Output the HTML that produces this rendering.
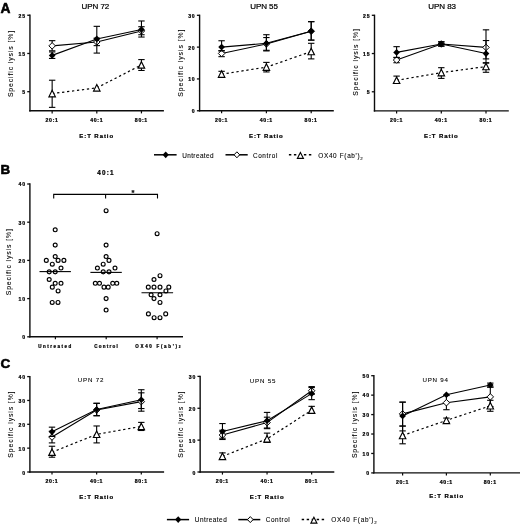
<!DOCTYPE html>
<html><head><meta charset="utf-8"><title>Figure</title>
<style>html,body{margin:0;padding:0;background:#fff}svg{display:block;filter:blur(.3px)}text{stroke:#000;stroke-width:.09px;stroke-linejoin:round}text[font-weight=bold]{stroke-width:.24px}text.tt{stroke-width:.22px}text.pl{stroke-width:.55px}</style></head>
<body>
<svg width="520" height="524" viewBox="0 0 520 524" font-family="'Liberation Sans', Arial, sans-serif">
<rect width="520" height="524" fill="#fff"/>
<text class="pl" x="0.5" y="12.8" font-size="13.8" font-weight="bold" fill="#000">A</text>
<text class="pl" x="0.5" y="174.4" font-size="13.4" font-weight="bold" fill="#000">B</text>
<text class="pl" x="0.5" y="368.2" font-size="13.6" font-weight="bold" fill="#000">C</text>
<line x1="52.15" y1="40.67" x2="52.15" y2="50.79" stroke="#000" stroke-width="1.1" />
<line x1="48.95" y1="40.67" x2="55.35" y2="40.67" stroke="#000" stroke-width="1.1" />
<line x1="48.95" y1="50.79" x2="55.35" y2="50.79" stroke="#000" stroke-width="1.1" />
<line x1="96.80" y1="38.18" x2="96.80" y2="45.63" stroke="#000" stroke-width="1.1" />
<line x1="93.60" y1="38.18" x2="100.00" y2="38.18" stroke="#000" stroke-width="1.1" />
<line x1="93.60" y1="45.63" x2="100.00" y2="45.63" stroke="#000" stroke-width="1.1" />
<line x1="141.45" y1="26.72" x2="141.45" y2="34.74" stroke="#000" stroke-width="1.1" />
<line x1="138.25" y1="26.72" x2="144.65" y2="26.72" stroke="#000" stroke-width="1.1" />
<line x1="138.25" y1="34.74" x2="144.65" y2="34.74" stroke="#000" stroke-width="1.1" />
<polyline points="52.15,45.83 96.80,42.00 141.45,30.92" fill="none" stroke="#000" stroke-width="1.1"/>
<polygon points="52.15,42.58 55.40,45.83 52.15,49.08 48.90,45.83" fill="#fff" stroke="#000" stroke-width="1"/>
<polygon points="96.80,38.75 100.05,42.00 96.80,45.25 93.55,42.00" fill="#fff" stroke="#000" stroke-width="1"/>
<polygon points="141.45,27.67 144.70,30.92 141.45,34.17 138.20,30.92" fill="#fff" stroke="#000" stroke-width="1"/>
<line x1="52.15" y1="51.94" x2="52.15" y2="58.44" stroke="#000" stroke-width="1.1" />
<line x1="48.95" y1="51.94" x2="55.35" y2="51.94" stroke="#000" stroke-width="1.1" />
<line x1="48.95" y1="58.44" x2="55.35" y2="58.44" stroke="#000" stroke-width="1.1" />
<line x1="96.80" y1="26.33" x2="96.80" y2="53.09" stroke="#000" stroke-width="1.1" />
<line x1="93.60" y1="26.33" x2="100.00" y2="26.33" stroke="#000" stroke-width="1.1" />
<line x1="93.60" y1="53.09" x2="100.00" y2="53.09" stroke="#000" stroke-width="1.1" />
<line x1="141.45" y1="20.98" x2="141.45" y2="37.04" stroke="#000" stroke-width="1.1" />
<line x1="138.25" y1="20.98" x2="144.65" y2="20.98" stroke="#000" stroke-width="1.1" />
<line x1="138.25" y1="37.04" x2="144.65" y2="37.04" stroke="#000" stroke-width="1.1" />
<polyline points="52.15,55.38 96.80,38.95 141.45,29.58" fill="none" stroke="#000" stroke-width="1.1"/>
<polygon points="52.15,52.03 55.50,55.38 52.15,58.73 48.80,55.38" fill="#000"/>
<polygon points="96.80,35.60 100.15,38.95 96.80,42.30 93.45,38.95" fill="#000"/>
<polygon points="141.45,26.23 144.80,29.58 141.45,32.93 138.10,29.58" fill="#000"/>
<line x1="52.15" y1="80.22" x2="52.15" y2="107.36" stroke="#000" stroke-width="1.1" />
<line x1="48.95" y1="80.22" x2="55.35" y2="80.22" stroke="#000" stroke-width="1.1" />
<line x1="48.95" y1="107.36" x2="55.35" y2="107.36" stroke="#000" stroke-width="1.1" />
<line x1="141.45" y1="59.59" x2="141.45" y2="70.48" stroke="#000" stroke-width="1.1" />
<line x1="138.25" y1="59.59" x2="144.65" y2="59.59" stroke="#000" stroke-width="1.1" />
<line x1="138.25" y1="70.48" x2="144.65" y2="70.48" stroke="#000" stroke-width="1.1" />
<polyline points="52.15,93.60 96.80,87.87 141.45,64.94" fill="none" stroke="#000" stroke-width="1.2" stroke-dasharray="2.3 2.7"/>
<polygon points="52.15,90.30 55.40,96.80 48.90,96.80" fill="#fff" stroke="#000" stroke-width="1.15"/>
<polygon points="96.80,84.57 100.05,91.07 93.55,91.07" fill="#fff" stroke="#000" stroke-width="1.15"/>
<polygon points="141.45,61.64 144.70,68.14 138.20,68.14" fill="#fff" stroke="#000" stroke-width="1.15"/>
<line x1="29.95" y1="14.60" x2="29.95" y2="111.50" stroke="#0c0c0c" stroke-width="1.4" />
<line x1="29.25" y1="110.80" x2="163.90" y2="110.80" stroke="#0c0c0c" stroke-width="1.4" />
<line x1="27.25" y1="91.69" x2="29.95" y2="91.69" stroke="#0c0c0c" stroke-width="1.3" />
<text x="22.21" y="94.19" font-size="5.1" font-weight="bold" letter-spacing="0.900" fill="#000">5</text>
<line x1="27.25" y1="53.47" x2="29.95" y2="53.47" stroke="#0c0c0c" stroke-width="1.3" />
<text x="18.48" y="55.97" font-size="5.1" font-weight="bold" letter-spacing="0.900" fill="#000">15</text>
<line x1="27.25" y1="15.25" x2="29.95" y2="15.25" stroke="#0c0c0c" stroke-width="1.3" />
<text x="18.48" y="17.75" font-size="5.1" font-weight="bold" letter-spacing="0.900" fill="#000">25</text>
<line x1="52.15" y1="110.80" x2="52.15" y2="113.40" stroke="#0c0c0c" stroke-width="1.2" />
<text x="45.57" y="121.60" font-size="5.2" font-weight="bold" letter-spacing="0.650" fill="#000">20:1</text>
<line x1="96.80" y1="110.80" x2="96.80" y2="113.40" stroke="#0c0c0c" stroke-width="1.2" />
<text x="90.22" y="121.60" font-size="5.2" font-weight="bold" letter-spacing="0.650" fill="#000">40:1</text>
<line x1="141.45" y1="110.80" x2="141.45" y2="113.40" stroke="#0c0c0c" stroke-width="1.2" />
<text x="134.87" y="121.60" font-size="5.2" font-weight="bold" letter-spacing="0.650" fill="#000">80:1</text>
<text class="tt" x="81.50" y="8.75" font-size="8" font-weight="normal" letter-spacing="-0.052" fill="#000">UPN 72</text>
<text transform="translate(13.30,97.10) rotate(-90)" font-size="6.8" letter-spacing="0.916" fill="#000">Specific lysis [%]</text>
<text x="79.25" y="137.90" font-size="6" font-weight="bold" letter-spacing="0.946" fill="#000">E:T Ratio</text>
<line x1="221.60" y1="50.62" x2="221.60" y2="56.66" stroke="#000" stroke-width="1.1" />
<line x1="218.40" y1="50.62" x2="224.80" y2="50.62" stroke="#000" stroke-width="1.1" />
<line x1="218.40" y1="56.66" x2="224.80" y2="56.66" stroke="#000" stroke-width="1.1" />
<line x1="266.40" y1="37.57" x2="266.40" y2="50.93" stroke="#000" stroke-width="1.1" />
<line x1="263.20" y1="37.57" x2="269.60" y2="37.57" stroke="#000" stroke-width="1.1" />
<line x1="263.20" y1="50.93" x2="269.60" y2="50.93" stroke="#000" stroke-width="1.1" />
<line x1="311.20" y1="21.66" x2="311.20" y2="40.12" stroke="#000" stroke-width="1.1" />
<line x1="308.00" y1="21.66" x2="314.40" y2="21.66" stroke="#000" stroke-width="1.1" />
<line x1="308.00" y1="40.12" x2="314.40" y2="40.12" stroke="#000" stroke-width="1.1" />
<polyline points="221.60,53.48 266.40,43.94 311.20,31.21" fill="none" stroke="#000" stroke-width="1.1"/>
<polygon points="221.60,50.23 224.85,53.48 221.60,56.73 218.35,53.48" fill="#fff" stroke="#000" stroke-width="1"/>
<polygon points="266.40,40.69 269.65,43.94 266.40,47.19 263.15,43.94" fill="#fff" stroke="#000" stroke-width="1"/>
<polygon points="311.20,27.96 314.45,31.21 311.20,34.46 307.95,31.21" fill="#fff" stroke="#000" stroke-width="1"/>
<line x1="221.60" y1="40.75" x2="221.60" y2="50.93" stroke="#000" stroke-width="1.1" />
<line x1="218.40" y1="40.75" x2="224.80" y2="40.75" stroke="#000" stroke-width="1.1" />
<line x1="218.40" y1="50.93" x2="224.80" y2="50.93" stroke="#000" stroke-width="1.1" />
<line x1="266.40" y1="34.71" x2="266.40" y2="50.30" stroke="#000" stroke-width="1.1" />
<line x1="263.20" y1="34.71" x2="269.60" y2="34.71" stroke="#000" stroke-width="1.1" />
<line x1="263.20" y1="50.30" x2="269.60" y2="50.30" stroke="#000" stroke-width="1.1" />
<line x1="311.20" y1="21.66" x2="311.20" y2="40.12" stroke="#000" stroke-width="1.1" />
<line x1="308.00" y1="21.66" x2="314.40" y2="21.66" stroke="#000" stroke-width="1.1" />
<line x1="308.00" y1="40.12" x2="314.40" y2="40.12" stroke="#000" stroke-width="1.1" />
<polyline points="221.60,47.12 266.40,43.30 311.20,31.21" fill="none" stroke="#000" stroke-width="1.1"/>
<polygon points="221.60,43.77 224.95,47.12 221.60,50.47 218.25,47.12" fill="#000"/>
<polygon points="266.40,39.95 269.75,43.30 266.40,46.65 263.05,43.30" fill="#000"/>
<polygon points="311.20,27.86 314.55,31.21 311.20,34.56 307.85,31.21" fill="#000"/>
<line x1="221.60" y1="71.30" x2="221.60" y2="77.02" stroke="#000" stroke-width="1.1" />
<line x1="218.40" y1="71.30" x2="224.80" y2="71.30" stroke="#000" stroke-width="1.1" />
<line x1="218.40" y1="77.02" x2="224.80" y2="77.02" stroke="#000" stroke-width="1.1" />
<line x1="266.40" y1="62.39" x2="266.40" y2="71.93" stroke="#000" stroke-width="1.1" />
<line x1="263.20" y1="62.39" x2="269.60" y2="62.39" stroke="#000" stroke-width="1.1" />
<line x1="263.20" y1="71.93" x2="269.60" y2="71.93" stroke="#000" stroke-width="1.1" />
<line x1="311.20" y1="43.30" x2="311.20" y2="58.89" stroke="#000" stroke-width="1.1" />
<line x1="308.00" y1="43.30" x2="314.40" y2="43.30" stroke="#000" stroke-width="1.1" />
<line x1="308.00" y1="58.89" x2="314.40" y2="58.89" stroke="#000" stroke-width="1.1" />
<polyline points="221.60,74.16 266.40,67.16 311.20,51.57" fill="none" stroke="#000" stroke-width="1.2" stroke-dasharray="2.3 2.7"/>
<polygon points="221.60,70.86 224.85,77.36 218.35,77.36" fill="#fff" stroke="#000" stroke-width="1.15"/>
<polygon points="266.40,63.86 269.65,70.36 263.15,70.36" fill="#fff" stroke="#000" stroke-width="1.15"/>
<polygon points="311.20,48.27 314.45,54.77 307.95,54.77" fill="#fff" stroke="#000" stroke-width="1.15"/>
<line x1="199.60" y1="14.65" x2="199.60" y2="111.45" stroke="#0c0c0c" stroke-width="1.4" />
<line x1="198.90" y1="110.75" x2="333.80" y2="110.75" stroke="#0c0c0c" stroke-width="1.4" />
<line x1="196.90" y1="110.75" x2="199.60" y2="110.75" stroke="#0c0c0c" stroke-width="1.3" />
<text x="191.86" y="113.25" font-size="5.1" font-weight="bold" letter-spacing="0.900" fill="#000">0</text>
<line x1="196.90" y1="78.93" x2="199.60" y2="78.93" stroke="#0c0c0c" stroke-width="1.3" />
<text x="188.13" y="81.43" font-size="5.1" font-weight="bold" letter-spacing="0.900" fill="#000">10</text>
<line x1="196.90" y1="47.12" x2="199.60" y2="47.12" stroke="#0c0c0c" stroke-width="1.3" />
<text x="188.13" y="49.62" font-size="5.1" font-weight="bold" letter-spacing="0.900" fill="#000">20</text>
<line x1="196.90" y1="15.30" x2="199.60" y2="15.30" stroke="#0c0c0c" stroke-width="1.3" />
<text x="188.13" y="17.80" font-size="5.1" font-weight="bold" letter-spacing="0.900" fill="#000">30</text>
<line x1="221.60" y1="110.75" x2="221.60" y2="113.35" stroke="#0c0c0c" stroke-width="1.2" />
<text x="215.02" y="121.60" font-size="5.2" font-weight="bold" letter-spacing="0.650" fill="#000">20:1</text>
<line x1="266.40" y1="110.75" x2="266.40" y2="113.35" stroke="#0c0c0c" stroke-width="1.2" />
<text x="259.82" y="121.60" font-size="5.2" font-weight="bold" letter-spacing="0.650" fill="#000">40:1</text>
<line x1="311.20" y1="110.75" x2="311.20" y2="113.35" stroke="#0c0c0c" stroke-width="1.2" />
<text x="304.62" y="121.60" font-size="5.2" font-weight="bold" letter-spacing="0.650" fill="#000">80:1</text>
<text class="tt" x="250.25" y="8.75" font-size="8" font-weight="normal" letter-spacing="-0.062" fill="#000">UPN 55</text>
<text transform="translate(183.30,96.70) rotate(-90)" font-size="6.8" letter-spacing="0.969" fill="#000">Specific lysis [%]</text>
<text x="249.05" y="137.70" font-size="6" font-weight="bold" letter-spacing="0.908" fill="#000">E:T Ratio</text>
<line x1="396.60" y1="57.75" x2="396.60" y2="62.72" stroke="#000" stroke-width="1.1" />
<line x1="393.40" y1="57.75" x2="399.80" y2="57.75" stroke="#000" stroke-width="1.1" />
<line x1="393.40" y1="62.72" x2="399.80" y2="62.72" stroke="#000" stroke-width="1.1" />
<line x1="441.30" y1="42.07" x2="441.30" y2="45.89" stroke="#000" stroke-width="1.1" />
<line x1="438.10" y1="42.07" x2="444.50" y2="42.07" stroke="#000" stroke-width="1.1" />
<line x1="438.10" y1="45.89" x2="444.50" y2="45.89" stroke="#000" stroke-width="1.1" />
<line x1="486.00" y1="29.83" x2="486.00" y2="63.10" stroke="#000" stroke-width="1.1" />
<line x1="482.80" y1="29.83" x2="489.20" y2="29.83" stroke="#000" stroke-width="1.1" />
<line x1="482.80" y1="63.10" x2="489.20" y2="63.10" stroke="#000" stroke-width="1.1" />
<polyline points="396.60,60.04 441.30,43.98 486.00,47.42" fill="none" stroke="#000" stroke-width="1.1"/>
<polygon points="396.60,56.79 399.85,60.04 396.60,63.29 393.35,60.04" fill="#fff" stroke="#000" stroke-width="1"/>
<polygon points="441.30,40.73 444.55,43.98 441.30,47.23 438.05,43.98" fill="#fff" stroke="#000" stroke-width="1"/>
<polygon points="486.00,44.17 489.25,47.42 486.00,50.67 482.75,47.42" fill="#fff" stroke="#000" stroke-width="1"/>
<line x1="396.60" y1="46.66" x2="396.60" y2="57.36" stroke="#000" stroke-width="1.1" />
<line x1="393.40" y1="46.66" x2="399.80" y2="46.66" stroke="#000" stroke-width="1.1" />
<line x1="393.40" y1="57.36" x2="399.80" y2="57.36" stroke="#000" stroke-width="1.1" />
<line x1="441.30" y1="41.69" x2="441.30" y2="46.27" stroke="#000" stroke-width="1.1" />
<line x1="438.10" y1="41.69" x2="444.50" y2="41.69" stroke="#000" stroke-width="1.1" />
<line x1="438.10" y1="46.27" x2="444.50" y2="46.27" stroke="#000" stroke-width="1.1" />
<line x1="486.00" y1="40.54" x2="486.00" y2="58.89" stroke="#000" stroke-width="1.1" />
<line x1="482.80" y1="40.54" x2="489.20" y2="40.54" stroke="#000" stroke-width="1.1" />
<line x1="482.80" y1="58.89" x2="489.20" y2="58.89" stroke="#000" stroke-width="1.1" />
<polyline points="396.60,52.39 441.30,43.98 486.00,53.54" fill="none" stroke="#000" stroke-width="1.1"/>
<polygon points="396.60,49.04 399.95,52.39 396.60,55.74 393.25,52.39" fill="#000"/>
<polygon points="441.30,40.63 444.65,43.98 441.30,47.33 437.95,43.98" fill="#000"/>
<polygon points="486.00,50.19 489.35,53.54 486.00,56.89 482.65,53.54" fill="#000"/>
<line x1="396.60" y1="76.10" x2="396.60" y2="83.37" stroke="#000" stroke-width="1.1" />
<line x1="393.40" y1="76.10" x2="399.80" y2="76.10" stroke="#000" stroke-width="1.1" />
<line x1="393.40" y1="83.37" x2="399.80" y2="83.37" stroke="#000" stroke-width="1.1" />
<line x1="441.30" y1="67.69" x2="441.30" y2="78.40" stroke="#000" stroke-width="1.1" />
<line x1="438.10" y1="67.69" x2="444.50" y2="67.69" stroke="#000" stroke-width="1.1" />
<line x1="438.10" y1="78.40" x2="444.50" y2="78.40" stroke="#000" stroke-width="1.1" />
<line x1="486.00" y1="62.72" x2="486.00" y2="72.28" stroke="#000" stroke-width="1.1" />
<line x1="482.80" y1="62.72" x2="489.20" y2="62.72" stroke="#000" stroke-width="1.1" />
<line x1="482.80" y1="72.28" x2="489.20" y2="72.28" stroke="#000" stroke-width="1.1" />
<polyline points="396.60,80.31 441.30,72.66 486.00,66.54" fill="none" stroke="#000" stroke-width="1.2" stroke-dasharray="2.3 2.7"/>
<polygon points="396.60,77.01 399.85,83.51 393.35,83.51" fill="#fff" stroke="#000" stroke-width="1.15"/>
<polygon points="441.30,69.36 444.55,75.86 438.05,75.86" fill="#fff" stroke="#000" stroke-width="1.15"/>
<polygon points="486.00,63.24 489.25,69.74 482.75,69.74" fill="#fff" stroke="#000" stroke-width="1.15"/>
<line x1="374.50" y1="14.65" x2="374.50" y2="111.60" stroke="#0c0c0c" stroke-width="1.4" />
<line x1="373.80" y1="110.90" x2="508.80" y2="110.90" stroke="#0c0c0c" stroke-width="1.4" />
<line x1="371.80" y1="91.78" x2="374.50" y2="91.78" stroke="#0c0c0c" stroke-width="1.3" />
<text x="366.76" y="94.28" font-size="5.1" font-weight="bold" letter-spacing="0.900" fill="#000">5</text>
<line x1="371.80" y1="53.54" x2="374.50" y2="53.54" stroke="#0c0c0c" stroke-width="1.3" />
<text x="363.03" y="56.04" font-size="5.1" font-weight="bold" letter-spacing="0.900" fill="#000">15</text>
<line x1="371.80" y1="15.30" x2="374.50" y2="15.30" stroke="#0c0c0c" stroke-width="1.3" />
<text x="363.03" y="17.80" font-size="5.1" font-weight="bold" letter-spacing="0.900" fill="#000">25</text>
<line x1="396.60" y1="110.90" x2="396.60" y2="113.50" stroke="#0c0c0c" stroke-width="1.2" />
<text x="390.02" y="121.60" font-size="5.2" font-weight="bold" letter-spacing="0.650" fill="#000">20:1</text>
<line x1="441.30" y1="110.90" x2="441.30" y2="113.50" stroke="#0c0c0c" stroke-width="1.2" />
<text x="434.72" y="121.60" font-size="5.2" font-weight="bold" letter-spacing="0.650" fill="#000">40:1</text>
<line x1="486.00" y1="110.90" x2="486.00" y2="113.50" stroke="#0c0c0c" stroke-width="1.2" />
<text x="479.42" y="121.60" font-size="5.2" font-weight="bold" letter-spacing="0.650" fill="#000">80:1</text>
<text class="tt" x="428.25" y="8.75" font-size="8" font-weight="normal" letter-spacing="-0.052" fill="#000">UPN 83</text>
<text transform="translate(357.90,95.80) rotate(-90)" font-size="6.8" letter-spacing="0.951" fill="#000">Specific lysis [%]</text>
<text x="424.05" y="137.70" font-size="6" font-weight="bold" letter-spacing="0.908" fill="#000">E:T Ratio</text>
<line x1="154.00" y1="154.80" x2="176.60" y2="154.80" stroke="#000" stroke-width="1.5" />
<polygon points="165.70,151.40 168.80,154.80 165.70,158.20 162.60,154.80" fill="#000"/>
<text x="182.15" y="158.00" font-size="6.4" font-weight="normal" letter-spacing="0.424" fill="#000">Untreated</text>
<line x1="225.50" y1="154.80" x2="247.70" y2="154.80" stroke="#000" stroke-width="1.5" />
<polygon points="236.90,151.80 239.70,154.80 236.90,157.80 234.10,154.80" fill="#fff" stroke="#000" stroke-width="1"/>
<text x="252.95" y="158.00" font-size="6.4" font-weight="normal" letter-spacing="0.628" fill="#000">Control</text>
<line x1="288.90" y1="154.80" x2="311.70" y2="154.80" stroke="#000" stroke-width="1.5" stroke-dasharray="2.4 2.6"/>
<polygon points="300.40,152.40 303.40,158.30 297.40,158.30" fill="#fff" stroke="#000" stroke-width="1.15"/>
<text x="318.35" y="158.00" font-size="6.4" letter-spacing="0.664" fill="#000">OX40 F(ab')<tspan font-size="4.4" dy="1.6">2</tspan></text>
<line x1="52.00" y1="431.22" x2="52.00" y2="442.90" stroke="#000" stroke-width="1.1" />
<line x1="48.80" y1="431.22" x2="55.20" y2="431.22" stroke="#000" stroke-width="1.1" />
<line x1="48.80" y1="442.90" x2="55.20" y2="442.90" stroke="#000" stroke-width="1.1" />
<line x1="96.65" y1="403.31" x2="96.65" y2="415.71" stroke="#000" stroke-width="1.1" />
<line x1="93.45" y1="403.31" x2="99.85" y2="403.31" stroke="#000" stroke-width="1.1" />
<line x1="93.45" y1="415.71" x2="99.85" y2="415.71" stroke="#000" stroke-width="1.1" />
<line x1="141.30" y1="392.82" x2="141.30" y2="411.18" stroke="#000" stroke-width="1.1" />
<line x1="138.10" y1="392.82" x2="144.50" y2="392.82" stroke="#000" stroke-width="1.1" />
<line x1="138.10" y1="411.18" x2="144.50" y2="411.18" stroke="#000" stroke-width="1.1" />
<polyline points="52.00,437.06 96.65,409.99 141.30,401.64" fill="none" stroke="#000" stroke-width="1.1"/>
<polygon points="52.00,433.81 55.25,437.06 52.00,440.31 48.75,437.06" fill="#fff" stroke="#000" stroke-width="1"/>
<polygon points="96.65,406.74 99.90,409.99 96.65,413.24 93.40,409.99" fill="#fff" stroke="#000" stroke-width="1"/>
<polygon points="141.30,398.39 144.55,401.64 141.30,404.89 138.05,401.64" fill="#fff" stroke="#000" stroke-width="1"/>
<line x1="52.00" y1="427.16" x2="52.00" y2="436.46" stroke="#000" stroke-width="1.1" />
<line x1="48.80" y1="427.16" x2="55.20" y2="427.16" stroke="#000" stroke-width="1.1" />
<line x1="48.80" y1="436.46" x2="55.20" y2="436.46" stroke="#000" stroke-width="1.1" />
<line x1="96.65" y1="403.31" x2="96.65" y2="415.71" stroke="#000" stroke-width="1.1" />
<line x1="93.45" y1="403.31" x2="99.85" y2="403.31" stroke="#000" stroke-width="1.1" />
<line x1="93.45" y1="415.71" x2="99.85" y2="415.71" stroke="#000" stroke-width="1.1" />
<line x1="141.30" y1="389.72" x2="141.30" y2="408.56" stroke="#000" stroke-width="1.1" />
<line x1="138.10" y1="389.72" x2="144.50" y2="389.72" stroke="#000" stroke-width="1.1" />
<line x1="138.10" y1="408.56" x2="144.50" y2="408.56" stroke="#000" stroke-width="1.1" />
<polyline points="52.00,431.81 96.65,409.51 141.30,399.73" fill="none" stroke="#000" stroke-width="1.1"/>
<polygon points="52.00,428.46 55.35,431.81 52.00,435.16 48.65,431.81" fill="#000"/>
<polygon points="96.65,406.16 100.00,409.51 96.65,412.86 93.30,409.51" fill="#000"/>
<polygon points="141.30,396.38 144.65,399.73 141.30,403.08 137.95,399.73" fill="#000"/>
<line x1="52.00" y1="446.24" x2="52.00" y2="457.21" stroke="#000" stroke-width="1.1" />
<line x1="48.80" y1="446.24" x2="55.20" y2="446.24" stroke="#000" stroke-width="1.1" />
<line x1="48.80" y1="457.21" x2="55.20" y2="457.21" stroke="#000" stroke-width="1.1" />
<line x1="96.65" y1="425.97" x2="96.65" y2="442.90" stroke="#000" stroke-width="1.1" />
<line x1="93.45" y1="425.97" x2="99.85" y2="425.97" stroke="#000" stroke-width="1.1" />
<line x1="93.45" y1="442.90" x2="99.85" y2="442.90" stroke="#000" stroke-width="1.1" />
<line x1="141.30" y1="422.39" x2="141.30" y2="430.50" stroke="#000" stroke-width="1.1" />
<line x1="138.10" y1="422.39" x2="144.50" y2="422.39" stroke="#000" stroke-width="1.1" />
<line x1="138.10" y1="430.50" x2="144.50" y2="430.50" stroke="#000" stroke-width="1.1" />
<polyline points="52.00,452.20 96.65,434.32 141.30,426.45" fill="none" stroke="#000" stroke-width="1.2" stroke-dasharray="2.3 2.7"/>
<polygon points="52.00,448.90 55.25,455.40 48.75,455.40" fill="#fff" stroke="#000" stroke-width="1.15"/>
<polygon points="96.65,431.02 99.90,437.52 93.40,437.52" fill="#fff" stroke="#000" stroke-width="1.15"/>
<polygon points="141.30,423.15 144.55,429.65 138.05,429.65" fill="#fff" stroke="#000" stroke-width="1.15"/>
<line x1="29.90" y1="375.95" x2="29.90" y2="472.70" stroke="#0c0c0c" stroke-width="1.4" />
<line x1="29.20" y1="472.00" x2="164.10" y2="472.00" stroke="#0c0c0c" stroke-width="1.4" />
<line x1="27.20" y1="472.00" x2="29.90" y2="472.00" stroke="#0c0c0c" stroke-width="1.3" />
<text x="22.16" y="474.50" font-size="5.1" font-weight="bold" letter-spacing="0.900" fill="#000">0</text>
<line x1="27.20" y1="448.15" x2="29.90" y2="448.15" stroke="#0c0c0c" stroke-width="1.3" />
<text x="18.43" y="450.65" font-size="5.1" font-weight="bold" letter-spacing="0.900" fill="#000">10</text>
<line x1="27.20" y1="424.30" x2="29.90" y2="424.30" stroke="#0c0c0c" stroke-width="1.3" />
<text x="18.43" y="426.80" font-size="5.1" font-weight="bold" letter-spacing="0.900" fill="#000">20</text>
<line x1="27.20" y1="400.45" x2="29.90" y2="400.45" stroke="#0c0c0c" stroke-width="1.3" />
<text x="18.43" y="402.95" font-size="5.1" font-weight="bold" letter-spacing="0.900" fill="#000">30</text>
<line x1="27.20" y1="376.60" x2="29.90" y2="376.60" stroke="#0c0c0c" stroke-width="1.3" />
<text x="18.43" y="379.10" font-size="5.1" font-weight="bold" letter-spacing="0.900" fill="#000">40</text>
<line x1="52.00" y1="472.00" x2="52.00" y2="474.60" stroke="#0c0c0c" stroke-width="1.2" />
<text x="45.42" y="482.60" font-size="5.2" font-weight="bold" letter-spacing="0.650" fill="#000">20:1</text>
<line x1="96.65" y1="472.00" x2="96.65" y2="474.60" stroke="#0c0c0c" stroke-width="1.2" />
<text x="90.07" y="482.60" font-size="5.2" font-weight="bold" letter-spacing="0.650" fill="#000">40:1</text>
<line x1="141.30" y1="472.00" x2="141.30" y2="474.60" stroke="#0c0c0c" stroke-width="1.2" />
<text x="134.72" y="482.60" font-size="5.2" font-weight="bold" letter-spacing="0.650" fill="#000">80:1</text>
<text x="77.75" y="381.60" font-size="6.2" font-weight="normal" letter-spacing="0.798" fill="#000">UPN 72</text>
<text transform="translate(13.30,457.70) rotate(-90)" font-size="6.8" letter-spacing="0.916" fill="#000">Specific lysis [%]</text>
<text x="79.35" y="498.90" font-size="6" font-weight="bold" letter-spacing="0.933" fill="#000">E:T Ratio</text>
<line x1="222.45" y1="430.25" x2="222.45" y2="439.50" stroke="#000" stroke-width="1.1" />
<line x1="219.25" y1="430.25" x2="225.65" y2="430.25" stroke="#000" stroke-width="1.1" />
<line x1="219.25" y1="439.50" x2="225.65" y2="439.50" stroke="#000" stroke-width="1.1" />
<line x1="267.05" y1="417.19" x2="267.05" y2="428.02" stroke="#000" stroke-width="1.1" />
<line x1="263.85" y1="417.19" x2="270.25" y2="417.19" stroke="#000" stroke-width="1.1" />
<line x1="263.85" y1="428.02" x2="270.25" y2="428.02" stroke="#000" stroke-width="1.1" />
<line x1="311.65" y1="386.60" x2="311.65" y2="394.25" stroke="#000" stroke-width="1.1" />
<line x1="308.45" y1="386.60" x2="314.85" y2="386.60" stroke="#000" stroke-width="1.1" />
<line x1="308.45" y1="394.25" x2="314.85" y2="394.25" stroke="#000" stroke-width="1.1" />
<polyline points="222.45,435.03 267.05,422.61 311.65,390.74" fill="none" stroke="#000" stroke-width="1.1"/>
<polygon points="222.45,431.78 225.70,435.03 222.45,438.28 219.20,435.03" fill="#fff" stroke="#000" stroke-width="1"/>
<polygon points="267.05,419.36 270.30,422.61 267.05,425.86 263.80,422.61" fill="#fff" stroke="#000" stroke-width="1"/>
<polygon points="311.65,387.49 314.90,390.74 311.65,393.99 308.40,390.74" fill="#fff" stroke="#000" stroke-width="1"/>
<line x1="222.45" y1="423.56" x2="222.45" y2="438.22" stroke="#000" stroke-width="1.1" />
<line x1="219.25" y1="423.56" x2="225.65" y2="423.56" stroke="#000" stroke-width="1.1" />
<line x1="219.25" y1="438.22" x2="225.65" y2="438.22" stroke="#000" stroke-width="1.1" />
<line x1="267.05" y1="412.41" x2="267.05" y2="428.66" stroke="#000" stroke-width="1.1" />
<line x1="263.85" y1="412.41" x2="270.25" y2="412.41" stroke="#000" stroke-width="1.1" />
<line x1="263.85" y1="428.66" x2="270.25" y2="428.66" stroke="#000" stroke-width="1.1" />
<line x1="311.65" y1="387.55" x2="311.65" y2="399.66" stroke="#000" stroke-width="1.1" />
<line x1="308.45" y1="387.55" x2="314.85" y2="387.55" stroke="#000" stroke-width="1.1" />
<line x1="308.45" y1="399.66" x2="314.85" y2="399.66" stroke="#000" stroke-width="1.1" />
<polyline points="222.45,431.53 267.05,420.69 311.65,393.61" fill="none" stroke="#000" stroke-width="1.1"/>
<polygon points="222.45,428.18 225.80,431.53 222.45,434.88 219.10,431.53" fill="#000"/>
<polygon points="267.05,417.34 270.40,420.69 267.05,424.04 263.70,420.69" fill="#000"/>
<polygon points="311.65,390.26 315.00,393.61 311.65,396.96 308.30,393.61" fill="#000"/>
<line x1="222.45" y1="452.88" x2="222.45" y2="458.93" stroke="#000" stroke-width="1.1" />
<line x1="219.25" y1="452.88" x2="225.65" y2="452.88" stroke="#000" stroke-width="1.1" />
<line x1="219.25" y1="458.93" x2="225.65" y2="458.93" stroke="#000" stroke-width="1.1" />
<line x1="267.05" y1="433.12" x2="267.05" y2="442.36" stroke="#000" stroke-width="1.1" />
<line x1="263.85" y1="433.12" x2="270.25" y2="433.12" stroke="#000" stroke-width="1.1" />
<line x1="263.85" y1="442.36" x2="270.25" y2="442.36" stroke="#000" stroke-width="1.1" />
<line x1="311.65" y1="406.35" x2="311.65" y2="413.37" stroke="#000" stroke-width="1.1" />
<line x1="308.45" y1="406.35" x2="314.85" y2="406.35" stroke="#000" stroke-width="1.1" />
<line x1="308.45" y1="413.37" x2="314.85" y2="413.37" stroke="#000" stroke-width="1.1" />
<polyline points="222.45,456.39 267.05,438.86 311.65,410.18" fill="none" stroke="#000" stroke-width="1.2" stroke-dasharray="2.3 2.7"/>
<polygon points="222.45,453.09 225.70,459.59 219.20,459.59" fill="#fff" stroke="#000" stroke-width="1.15"/>
<polygon points="267.05,435.56 270.30,442.06 263.80,442.06" fill="#fff" stroke="#000" stroke-width="1.15"/>
<polygon points="311.65,406.88 314.90,413.38 308.40,413.38" fill="#fff" stroke="#000" stroke-width="1.15"/>
<line x1="200.15" y1="375.75" x2="200.15" y2="472.70" stroke="#0c0c0c" stroke-width="1.4" />
<line x1="199.45" y1="472.00" x2="334.30" y2="472.00" stroke="#0c0c0c" stroke-width="1.4" />
<line x1="197.45" y1="472.00" x2="200.15" y2="472.00" stroke="#0c0c0c" stroke-width="1.3" />
<text x="192.41" y="474.50" font-size="5.1" font-weight="bold" letter-spacing="0.900" fill="#000">0</text>
<line x1="197.45" y1="440.13" x2="200.15" y2="440.13" stroke="#0c0c0c" stroke-width="1.3" />
<text x="188.68" y="442.63" font-size="5.1" font-weight="bold" letter-spacing="0.900" fill="#000">10</text>
<line x1="197.45" y1="408.27" x2="200.15" y2="408.27" stroke="#0c0c0c" stroke-width="1.3" />
<text x="188.68" y="410.77" font-size="5.1" font-weight="bold" letter-spacing="0.900" fill="#000">20</text>
<line x1="197.45" y1="376.40" x2="200.15" y2="376.40" stroke="#0c0c0c" stroke-width="1.3" />
<text x="188.68" y="378.90" font-size="5.1" font-weight="bold" letter-spacing="0.900" fill="#000">30</text>
<line x1="222.45" y1="472.00" x2="222.45" y2="474.60" stroke="#0c0c0c" stroke-width="1.2" />
<text x="215.87" y="482.60" font-size="5.2" font-weight="bold" letter-spacing="0.650" fill="#000">20:1</text>
<line x1="267.05" y1="472.00" x2="267.05" y2="474.60" stroke="#0c0c0c" stroke-width="1.2" />
<text x="260.47" y="482.60" font-size="5.2" font-weight="bold" letter-spacing="0.650" fill="#000">40:1</text>
<line x1="311.65" y1="472.00" x2="311.65" y2="474.60" stroke="#0c0c0c" stroke-width="1.2" />
<text x="305.07" y="482.60" font-size="5.2" font-weight="bold" letter-spacing="0.650" fill="#000">80:1</text>
<text x="249.75" y="382.90" font-size="6.2" font-weight="normal" letter-spacing="0.818" fill="#000">UPN 55</text>
<text transform="translate(183.30,457.70) rotate(-90)" font-size="6.8" letter-spacing="0.916" fill="#000">Specific lysis [%]</text>
<text x="249.75" y="498.90" font-size="6" font-weight="bold" letter-spacing="0.933" fill="#000">E:T Ratio</text>
<line x1="402.60" y1="402.14" x2="402.60" y2="430.91" stroke="#000" stroke-width="1.1" />
<line x1="399.40" y1="402.14" x2="405.80" y2="402.14" stroke="#000" stroke-width="1.1" />
<line x1="399.40" y1="430.91" x2="405.80" y2="430.91" stroke="#000" stroke-width="1.1" />
<line x1="446.40" y1="395.53" x2="446.40" y2="409.72" stroke="#000" stroke-width="1.1" />
<line x1="443.20" y1="395.53" x2="449.60" y2="395.53" stroke="#000" stroke-width="1.1" />
<line x1="443.20" y1="409.72" x2="449.60" y2="409.72" stroke="#000" stroke-width="1.1" />
<line x1="490.30" y1="387.17" x2="490.30" y2="406.61" stroke="#000" stroke-width="1.1" />
<line x1="487.10" y1="387.17" x2="493.50" y2="387.17" stroke="#000" stroke-width="1.1" />
<line x1="487.10" y1="406.61" x2="493.50" y2="406.61" stroke="#000" stroke-width="1.1" />
<polyline points="402.60,413.90 446.40,402.72 490.30,396.89" fill="none" stroke="#000" stroke-width="1.1"/>
<polygon points="402.60,410.65 405.85,413.90 402.60,417.15 399.35,413.90" fill="#fff" stroke="#000" stroke-width="1"/>
<polygon points="446.40,399.47 449.65,402.72 446.40,405.97 443.15,402.72" fill="#fff" stroke="#000" stroke-width="1"/>
<polygon points="490.30,393.64 493.55,396.89 490.30,400.14 487.05,396.89" fill="#fff" stroke="#000" stroke-width="1"/>
<line x1="402.60" y1="402.14" x2="402.60" y2="426.05" stroke="#000" stroke-width="1.1" />
<line x1="399.40" y1="402.14" x2="405.80" y2="402.14" stroke="#000" stroke-width="1.1" />
<line x1="399.40" y1="426.05" x2="405.80" y2="426.05" stroke="#000" stroke-width="1.1" />
<line x1="490.30" y1="383.09" x2="490.30" y2="386.98" stroke="#000" stroke-width="1.1" />
<line x1="487.10" y1="383.09" x2="493.50" y2="383.09" stroke="#000" stroke-width="1.1" />
<line x1="487.10" y1="386.98" x2="493.50" y2="386.98" stroke="#000" stroke-width="1.1" />
<polyline points="402.60,415.94 446.40,394.75 490.30,385.03" fill="none" stroke="#000" stroke-width="1.1"/>
<polygon points="402.60,412.59 405.95,415.94 402.60,419.29 399.25,415.94" fill="#000"/>
<polygon points="446.40,391.40 449.75,394.75 446.40,398.10 443.05,394.75" fill="#000"/>
<polygon points="490.30,381.68 493.65,385.03 490.30,388.38 486.95,385.03" fill="#000"/>
<line x1="402.60" y1="426.05" x2="402.60" y2="443.80" stroke="#000" stroke-width="1.1" />
<line x1="399.40" y1="426.05" x2="405.80" y2="426.05" stroke="#000" stroke-width="1.1" />
<line x1="399.40" y1="443.80" x2="405.80" y2="443.80" stroke="#000" stroke-width="1.1" />
<line x1="446.40" y1="418.08" x2="446.40" y2="422.36" stroke="#000" stroke-width="1.1" />
<line x1="443.20" y1="418.08" x2="449.60" y2="418.08" stroke="#000" stroke-width="1.1" />
<line x1="443.20" y1="422.36" x2="449.60" y2="422.36" stroke="#000" stroke-width="1.1" />
<line x1="490.30" y1="400.29" x2="490.30" y2="411.28" stroke="#000" stroke-width="1.1" />
<line x1="487.10" y1="400.29" x2="493.50" y2="400.29" stroke="#000" stroke-width="1.1" />
<line x1="487.10" y1="411.28" x2="493.50" y2="411.28" stroke="#000" stroke-width="1.1" />
<polyline points="402.60,435.50 446.40,420.41 490.30,405.83" fill="none" stroke="#000" stroke-width="1.2" stroke-dasharray="2.3 2.7"/>
<polygon points="402.60,432.20 405.85,438.70 399.35,438.70" fill="#fff" stroke="#000" stroke-width="1.15"/>
<polygon points="446.40,417.11 449.65,423.61 443.15,423.61" fill="#fff" stroke="#000" stroke-width="1.15"/>
<polygon points="490.30,402.53 493.55,409.03 487.05,409.03" fill="#fff" stroke="#000" stroke-width="1.15"/>
<line x1="373.90" y1="375.05" x2="373.90" y2="473.60" stroke="#0c0c0c" stroke-width="1.4" />
<line x1="373.20" y1="472.90" x2="520.50" y2="472.90" stroke="#0c0c0c" stroke-width="1.4" />
<line x1="371.20" y1="472.90" x2="373.90" y2="472.90" stroke="#0c0c0c" stroke-width="1.3" />
<text x="366.16" y="475.00" font-size="5.1" font-weight="bold" letter-spacing="0.900" fill="#000">0</text>
<line x1="371.20" y1="453.46" x2="373.90" y2="453.46" stroke="#0c0c0c" stroke-width="1.3" />
<text x="362.43" y="455.56" font-size="5.1" font-weight="bold" letter-spacing="0.900" fill="#000">10</text>
<line x1="371.20" y1="434.02" x2="373.90" y2="434.02" stroke="#0c0c0c" stroke-width="1.3" />
<text x="362.43" y="436.12" font-size="5.1" font-weight="bold" letter-spacing="0.900" fill="#000">20</text>
<line x1="371.20" y1="414.58" x2="373.90" y2="414.58" stroke="#0c0c0c" stroke-width="1.3" />
<text x="362.43" y="416.68" font-size="5.1" font-weight="bold" letter-spacing="0.900" fill="#000">30</text>
<line x1="371.20" y1="395.14" x2="373.90" y2="395.14" stroke="#0c0c0c" stroke-width="1.3" />
<text x="362.43" y="397.24" font-size="5.1" font-weight="bold" letter-spacing="0.900" fill="#000">40</text>
<line x1="371.20" y1="375.70" x2="373.90" y2="375.70" stroke="#0c0c0c" stroke-width="1.3" />
<text x="362.43" y="377.80" font-size="5.1" font-weight="bold" letter-spacing="0.900" fill="#000">50</text>
<line x1="402.60" y1="472.90" x2="402.60" y2="475.50" stroke="#0c0c0c" stroke-width="1.2" />
<text x="396.02" y="483.60" font-size="5.2" font-weight="bold" letter-spacing="0.650" fill="#000">20:1</text>
<line x1="446.40" y1="472.90" x2="446.40" y2="475.50" stroke="#0c0c0c" stroke-width="1.2" />
<text x="439.82" y="483.60" font-size="5.2" font-weight="bold" letter-spacing="0.650" fill="#000">40:1</text>
<line x1="490.30" y1="472.90" x2="490.30" y2="475.50" stroke="#0c0c0c" stroke-width="1.2" />
<text x="483.72" y="483.60" font-size="5.2" font-weight="bold" letter-spacing="0.650" fill="#000">80:1</text>
<text x="422.45" y="381.60" font-size="6.2" font-weight="normal" letter-spacing="0.758" fill="#000">UPN 94</text>
<text transform="translate(356.80,458.10) rotate(-90)" font-size="6.8" letter-spacing="0.939" fill="#000">Specific lysis [%]</text>
<text x="429.35" y="497.60" font-size="6" font-weight="bold" letter-spacing="0.933" fill="#000">E:T Ratio</text>
<line x1="166.90" y1="519.60" x2="189.10" y2="519.60" stroke="#000" stroke-width="1.5" />
<polygon points="178.20,516.20 181.30,519.60 178.20,523.00 175.10,519.60" fill="#000"/>
<text x="194.85" y="521.90" font-size="6.4" font-weight="normal" letter-spacing="0.474" fill="#000">Untreated</text>
<line x1="238.30" y1="519.60" x2="260.30" y2="519.60" stroke="#000" stroke-width="1.5" />
<polygon points="250.30,516.60 253.10,519.60 250.30,522.60 247.50,519.60" fill="#fff" stroke="#000" stroke-width="1"/>
<text x="265.75" y="521.90" font-size="6.4" font-weight="normal" letter-spacing="0.561" fill="#000">Control</text>
<line x1="301.70" y1="519.60" x2="324.60" y2="519.60" stroke="#000" stroke-width="1.5" stroke-dasharray="2.4 2.6"/>
<polygon points="313.90,517.20 316.90,523.10 310.90,523.10" fill="#fff" stroke="#000" stroke-width="1.15"/>
<text x="331.25" y="521.90" font-size="6.4" letter-spacing="0.754" fill="#000">OX40 F(ab')<tspan font-size="4.4" dy="1.6">2</tspan></text>
<line x1="29.90" y1="183.35" x2="29.90" y2="337.50" stroke="#0c0c0c" stroke-width="1.4" />
<line x1="29.20" y1="336.80" x2="183.00" y2="336.80" stroke="#0c0c0c" stroke-width="1.4" />
<line x1="27.20" y1="336.80" x2="29.90" y2="336.80" stroke="#0c0c0c" stroke-width="1.3" />
<text x="22.16" y="339.10" font-size="5.1" font-weight="bold" letter-spacing="0.900" fill="#000">0</text>
<line x1="27.20" y1="298.60" x2="29.90" y2="298.60" stroke="#0c0c0c" stroke-width="1.3" />
<text x="18.43" y="300.90" font-size="5.1" font-weight="bold" letter-spacing="0.900" fill="#000">10</text>
<line x1="27.20" y1="260.40" x2="29.90" y2="260.40" stroke="#0c0c0c" stroke-width="1.3" />
<text x="18.43" y="262.70" font-size="5.1" font-weight="bold" letter-spacing="0.900" fill="#000">20</text>
<line x1="27.20" y1="222.20" x2="29.90" y2="222.20" stroke="#0c0c0c" stroke-width="1.3" />
<text x="18.43" y="224.50" font-size="5.1" font-weight="bold" letter-spacing="0.900" fill="#000">30</text>
<line x1="27.20" y1="184.00" x2="29.90" y2="184.00" stroke="#0c0c0c" stroke-width="1.3" />
<text x="18.43" y="186.30" font-size="5.1" font-weight="bold" letter-spacing="0.900" fill="#000">40</text>
<line x1="55.40" y1="336.80" x2="55.40" y2="339.30" stroke="#0c0c0c" stroke-width="1.2" />
<line x1="106.20" y1="336.80" x2="106.20" y2="339.30" stroke="#0c0c0c" stroke-width="1.2" />
<line x1="157.10" y1="336.80" x2="157.10" y2="339.30" stroke="#0c0c0c" stroke-width="1.2" />
<text x="38.35" y="347.70" font-size="4.5" font-weight="bold" letter-spacing="1.475" fill="#000">Untreated</text>
<text x="94.25" y="347.70" font-size="4.5" font-weight="bold" letter-spacing="1.267" fill="#000">Control</text>
<text x="135.25" y="347.7" font-size="4.5" font-weight="bold" letter-spacing="1.688" fill="#000">OX40 F(ab')<tspan font-size="3.2" dy="0.5">2</tspan></text>
<text x="97.25" y="174.50" font-size="6.3" font-weight="bold" letter-spacing="1.214" fill="#000">40:1</text>
<text transform="translate(11.10,295.30) rotate(-90)" font-size="6.8" letter-spacing="0.910" fill="#000">Specific lysis [%]</text>
<polyline points="53.7,198.6 53.7,194.4 157.5,194.4 157.5,198.6" fill="none" stroke="#000" stroke-width="1.1"/>
<line x1="105.60" y1="194.40" x2="105.60" y2="198.60" stroke="#000" stroke-width="1.1" />
<text x="131.6" y="195.3" font-size="7.5" font-weight="bold" fill="#000">*</text>
<circle cx="55.20" cy="229.84" r="1.95" fill="#fff" stroke="#000" stroke-width="1.15"/>
<circle cx="55.20" cy="245.12" r="1.95" fill="#fff" stroke="#000" stroke-width="1.15"/>
<circle cx="55.20" cy="256.58" r="1.95" fill="#fff" stroke="#000" stroke-width="1.15"/>
<circle cx="46.30" cy="260.40" r="1.95" fill="#fff" stroke="#000" stroke-width="1.15"/>
<circle cx="58.10" cy="260.40" r="1.95" fill="#fff" stroke="#000" stroke-width="1.15"/>
<circle cx="63.90" cy="260.40" r="1.95" fill="#fff" stroke="#000" stroke-width="1.15"/>
<circle cx="52.30" cy="264.22" r="1.95" fill="#fff" stroke="#000" stroke-width="1.15"/>
<circle cx="61.00" cy="268.04" r="1.95" fill="#fff" stroke="#000" stroke-width="1.15"/>
<circle cx="49.20" cy="271.86" r="1.95" fill="#fff" stroke="#000" stroke-width="1.15"/>
<circle cx="55.20" cy="271.86" r="1.95" fill="#fff" stroke="#000" stroke-width="1.15"/>
<circle cx="49.20" cy="279.50" r="1.95" fill="#fff" stroke="#000" stroke-width="1.15"/>
<circle cx="55.20" cy="283.32" r="1.95" fill="#fff" stroke="#000" stroke-width="1.15"/>
<circle cx="61.00" cy="283.32" r="1.95" fill="#fff" stroke="#000" stroke-width="1.15"/>
<circle cx="52.30" cy="287.14" r="1.95" fill="#fff" stroke="#000" stroke-width="1.15"/>
<circle cx="58.10" cy="290.96" r="1.95" fill="#fff" stroke="#000" stroke-width="1.15"/>
<circle cx="52.20" cy="302.42" r="1.95" fill="#fff" stroke="#000" stroke-width="1.15"/>
<circle cx="58.00" cy="302.42" r="1.95" fill="#fff" stroke="#000" stroke-width="1.15"/>
<circle cx="106.10" cy="210.74" r="1.95" fill="#fff" stroke="#000" stroke-width="1.15"/>
<circle cx="106.10" cy="245.12" r="1.95" fill="#fff" stroke="#000" stroke-width="1.15"/>
<circle cx="106.10" cy="256.58" r="1.95" fill="#fff" stroke="#000" stroke-width="1.15"/>
<circle cx="109.00" cy="260.40" r="1.95" fill="#fff" stroke="#000" stroke-width="1.15"/>
<circle cx="103.20" cy="264.22" r="1.95" fill="#fff" stroke="#000" stroke-width="1.15"/>
<circle cx="97.40" cy="268.04" r="1.95" fill="#fff" stroke="#000" stroke-width="1.15"/>
<circle cx="115.00" cy="268.04" r="1.95" fill="#fff" stroke="#000" stroke-width="1.15"/>
<circle cx="103.20" cy="271.86" r="1.95" fill="#fff" stroke="#000" stroke-width="1.15"/>
<circle cx="109.00" cy="271.86" r="1.95" fill="#fff" stroke="#000" stroke-width="1.15"/>
<circle cx="95.30" cy="283.32" r="1.95" fill="#fff" stroke="#000" stroke-width="1.15"/>
<circle cx="99.50" cy="283.32" r="1.95" fill="#fff" stroke="#000" stroke-width="1.15"/>
<circle cx="112.70" cy="283.32" r="1.95" fill="#fff" stroke="#000" stroke-width="1.15"/>
<circle cx="116.80" cy="283.32" r="1.95" fill="#fff" stroke="#000" stroke-width="1.15"/>
<circle cx="104.00" cy="287.14" r="1.95" fill="#fff" stroke="#000" stroke-width="1.15"/>
<circle cx="108.20" cy="287.14" r="1.95" fill="#fff" stroke="#000" stroke-width="1.15"/>
<circle cx="106.10" cy="298.60" r="1.95" fill="#fff" stroke="#000" stroke-width="1.15"/>
<circle cx="106.10" cy="310.06" r="1.95" fill="#fff" stroke="#000" stroke-width="1.15"/>
<circle cx="157.10" cy="233.66" r="1.95" fill="#fff" stroke="#000" stroke-width="1.15"/>
<circle cx="160.00" cy="275.68" r="1.95" fill="#fff" stroke="#000" stroke-width="1.15"/>
<circle cx="154.00" cy="279.50" r="1.95" fill="#fff" stroke="#000" stroke-width="1.15"/>
<circle cx="148.30" cy="287.14" r="1.95" fill="#fff" stroke="#000" stroke-width="1.15"/>
<circle cx="154.00" cy="287.14" r="1.95" fill="#fff" stroke="#000" stroke-width="1.15"/>
<circle cx="160.00" cy="287.14" r="1.95" fill="#fff" stroke="#000" stroke-width="1.15"/>
<circle cx="168.80" cy="287.14" r="1.95" fill="#fff" stroke="#000" stroke-width="1.15"/>
<circle cx="165.90" cy="290.96" r="1.95" fill="#fff" stroke="#000" stroke-width="1.15"/>
<circle cx="151.10" cy="294.78" r="1.95" fill="#fff" stroke="#000" stroke-width="1.15"/>
<circle cx="160.00" cy="294.78" r="1.95" fill="#fff" stroke="#000" stroke-width="1.15"/>
<circle cx="154.00" cy="298.60" r="1.95" fill="#fff" stroke="#000" stroke-width="1.15"/>
<circle cx="160.00" cy="302.42" r="1.95" fill="#fff" stroke="#000" stroke-width="1.15"/>
<circle cx="148.40" cy="313.88" r="1.95" fill="#fff" stroke="#000" stroke-width="1.15"/>
<circle cx="165.70" cy="313.88" r="1.95" fill="#fff" stroke="#000" stroke-width="1.15"/>
<circle cx="154.10" cy="317.70" r="1.95" fill="#fff" stroke="#000" stroke-width="1.15"/>
<circle cx="160.00" cy="317.70" r="1.95" fill="#fff" stroke="#000" stroke-width="1.15"/>
<line x1="39.50" y1="271.60" x2="70.90" y2="271.60" stroke="#000" stroke-width="1.1" />
<line x1="90.40" y1="272.40" x2="121.80" y2="272.40" stroke="#000" stroke-width="1.1" />
<line x1="141.50" y1="292.70" x2="173.10" y2="292.70" stroke="#000" stroke-width="1.1" />
</svg>
</body></html>
